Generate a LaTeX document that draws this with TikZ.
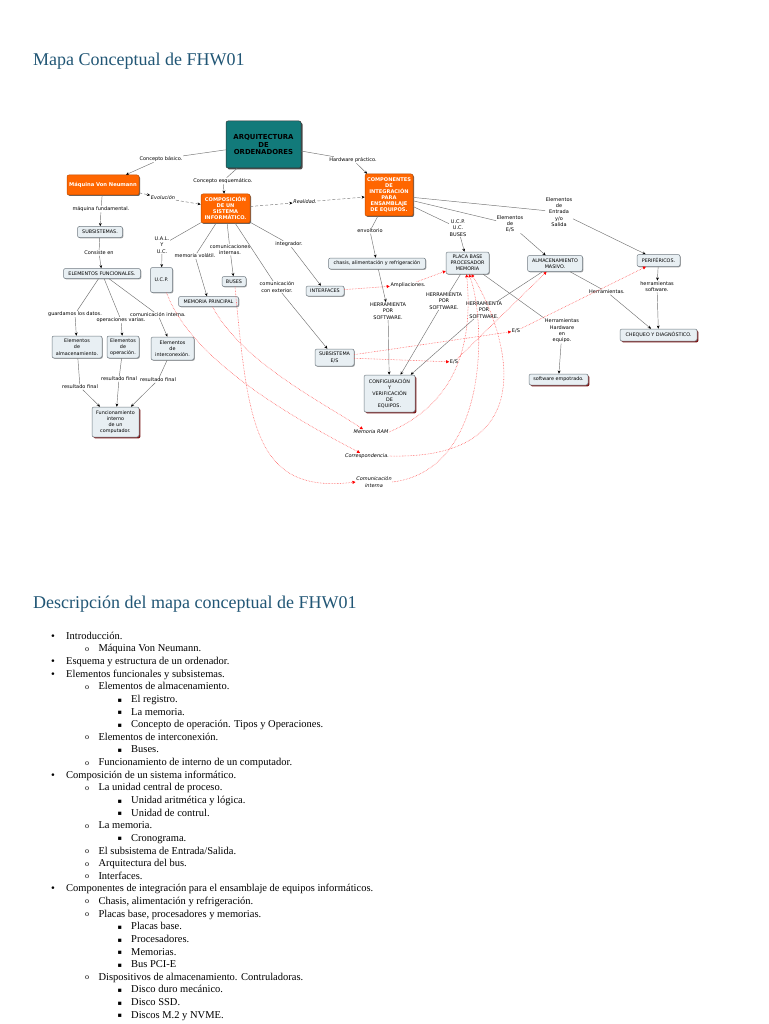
\documentclass[tikz,border=0pt]{standalone}
\usepackage{fontspec}
\setmainfont{Liberation Serif}
\newfontfamily\dv{DejaVu Sans}
\usetikzlibrary{arrows.meta,shadows}
\definecolor{titleblue}{RGB}{33,86,117}
\definecolor{conceptfill}{RGB}{232,239,243}
\definecolor{conceptdraw}{RGB}{110,120,128}
\definecolor{orangefill}{RGB}{255,102,0}
\definecolor{tealfill}{RGB}{18,122,122}
\definecolor{shadowred}{RGB}{125,25,25}
\newcommand\mycf{\dv\fontsize{4.85}{6.2}\selectfont}
\newcommand\myof{\dv\bfseries\fontsize{5.1}{6.1}\selectfont}
\newcommand\myvf{\dv\bfseries\fontsize{5.2}{6.2}\selectfont}
\newcommand\mytf{\dv\bfseries\fontsize{6.9}{7.8}\selectfont}
\newcommand\mylf{\dv\fontsize{5}{6.3}\selectfont}
\newcommand\myif{\dv\itshape\fontsize{5}{6.3}\selectfont}
\tikzset{
 base/.style={rounded corners=2pt, line width=0.5pt, inner sep=0pt, align=center},
 cbox/.style={base, draw=conceptdraw, fill=conceptfill, font=\mycf, drop shadow={shadow xshift=0.8pt,shadow yshift=-0.8pt,fill=black!35,opacity=1}},
 rbox/.style={base, draw=conceptdraw, fill=conceptfill, font=\mycf, drop shadow={shadow xshift=1.4pt,shadow yshift=-1.4pt,fill=shadowred,opacity=1}},
 obox/.style={base, draw=orangefill!75!black, fill=orangefill, text=white, font=\myof, drop shadow={shadow xshift=1pt,shadow yshift=-1pt,fill=black!60,opacity=1}},
 tbox/.style={base, draw=black!80, fill=tealfill, text=black, font=\mytf, drop shadow={shadow xshift=1.5pt,shadow yshift=-1.5pt,fill=black!70,opacity=1}},
 lbl/.style={inner sep=0.6pt, align=center, font=\mylf},
 ilbl/.style={inner sep=0.6pt, align=center, font=\myif},
 ln/.style={draw=black!55, line width=0.45pt},
 ar/.style={ln, -{Stealth[length=3.2pt,width=2.8pt,color=black]}},
 dsh/.style={ar, densely dashed},
 rd/.style={draw=red!70, line width=0.55pt, densely dotted, -{Triangle[length=3pt,width=3pt,color=red]}},
 lst/.style={anchor=base west, inner sep=0pt, font=\fontsize{10.5}{12}\selectfont},
 itm1/.style={lst, xshift=50.2pt, execute at begin node={\makebox[15.8pt][l]{\dv\fontsize{9}{9}\selectfont •}}},
 itm2/.style={lst, xshift=85pt, execute at begin node={\makebox[13.3pt][l]{\raisebox{0.6pt}{\fontsize{8}{8}\selectfont o}}}},
 itm3/.style={lst, xshift=117.3pt, execute at begin node={\makebox[13.7pt][l]{\raisebox{0.4pt}{\dv\fontsize{6.5}{6.5}\selectfont ▪}}}},
 ttl/.style={anchor=base west, inner sep=0pt, text=titleblue, font=\fontsize{18}{20}\selectfont},
}
\begin{document}
\begin{tikzpicture}[x=1pt,y=-1pt]
\useasboundingbox (0,0) rectangle (768,1024);
% titles
\node[ttl] (t1) at (33,66) {Mapa Conceptual de FHW01};
\node[ttl] (t2) at (33,608.3) {Descripción del mapa conceptual de FHW01};

% concepts
\node[tbox, minimum width=75pt, minimum height=47pt] (arq) at (263.5,144.5) {ARQUITECTURA\\DE\\ORDENADORES};
\node[obox, font=\myvf, minimum width=72pt, minimum height=20pt] (vn) at (103,185) {Máquina Von Neumann};
\node[obox, minimum width=49pt, minimum height=29pt] (comp) at (225.5,208.5) {COMPOSICIÓN\\DE UN\\SISTEMA\\INFORMÁTICO.};
\node[obox, minimum width=48pt, minimum height=42pt] (compo) at (389,195) {COMPONENTES\\DE\\INTEGRACIÓN\\PARA\\ENSAMBLAJE\\DE EQUIPOS.};
\node[cbox, minimum width=45pt, minimum height=11pt] (subs) at (100,232) {SUBSISTEMAS.};
\node[cbox, minimum width=77pt, minimum height=10pt] (ef) at (102,273.5) {ELEMENTOS FUNCIONALES.};
\node[cbox, minimum width=22pt, minimum height=25pt] (ucp) at (161.5,280) {U.C.P.};
\node[cbox, minimum width=60pt, minimum height=10pt] (mp) at (208.5,301.5) {MEMORIA PRINCIPAL};
\node[cbox, minimum width=24pt, minimum height=10pt] (buses) at (234,281.5) {BUSES};
\node[cbox, minimum width=38pt, minimum height=10pt] (interf) at (325,291) {INTERFACES};
\node[cbox, minimum width=97pt, minimum height=11pt] (chasis) at (377,263.5) {chasis, alimentación y refrigeración};
\node[cbox, minimum width=43pt, minimum height=22pt] (placa) at (467.5,263) {PLACA BASE\\PROCESADOR\\MEMORIA};
\node[cbox, minimum width=55pt, minimum height=16pt] (alm) at (555,263.5) {ALMACENAMIENTO\\MASIVO.};
\node[cbox, minimum width=43pt, minimum height=12pt] (perif) at (658.5,260.5) {PERIFÉRICOS.};
\node[rbox, minimum width=77pt, minimum height=12pt] (cheq) at (658.5,335) {CHEQUEO Y DIAGNÓSTICO.};
\node[rbox, minimum width=59pt, minimum height=11pt] (swemp) at (558.5,379.5) {software empotrado.};
\node[cbox, minimum width=39pt, minimum height=17pt] (subes) at (334.5,357.5) {SUBSISTEMA\\E/S};
\node[rbox, minimum width=51pt, minimum height=37pt] (config) at (389.5,393.5) {CONFIGURACIÓN\\Y\\VERIFICACIÓN\\DE\\EQUIPOS.};
\node[cbox, minimum width=50pt, minimum height=22pt] (ealm) at (77,347) {Elementos\\de\\almacenamiento.};
\node[cbox, minimum width=32pt, minimum height=22pt] (eop) at (123,347) {Elementos\\de\\operación.};
\node[cbox, minimum width=43pt, minimum height=23pt] (eint) at (172.5,348.5) {Elementos\\de\\interconexión.};
\node[rbox, minimum width=47pt, minimum height=30pt] (func) at (115.5,422) {Funcionamiento\\interno\\de un\\computador.};

% linking phrases
\node[lbl] (lcb) at (161,159) {Concepto básico.};
\node[lbl] (lhp) at (353,160) {Hardware práctico.};
\node[lbl] (lce) at (223,181) {Concepto esquemático.};
\node[ilbl] (lev) at (163,198) {Evolución};
\node[ilbl] (lre) at (305,202) {Realidad.};
\node[lbl] (lmf) at (101,209) {máquina fundamental.};
\node[lbl] (lcon) at (99,253) {Consiste en};
\node[lbl] (lual) at (162,245) {U.A.L.\\Y\\U.C.};
\node[lbl] (lmv) at (195,256) {memoria volátil.};
\node[lbl] (lci) at (230,249.5) {comunicaciones\\internas.};
\node[lbl] (lint) at (289,244) {integrador.};
\node[lbl] (lcce) at (277,287) {comunicación\\con exterior.};
\node[lbl] (lenv) at (370,231) {envoltorio};
\node[lbl] (lucp) at (458,228) {U.C.P.\\U.C.\\BUSES};
\node[lbl] (lees) at (510,224) {Elementos\\de\\E/S};
\node[lbl] (leesa) at (559,212) {Elementos\\de\\Entrada\\y/o\\Salida};
\node[lbl] (lgd) at (75,314) {guardamos los datos.};
\node[lbl] (lov) at (121,320) {operaciones varias.};
\node[lbl] (lcin) at (158,315) {comunicación interna.};
\node[lbl] (lh1) at (388,311) {HERRAMIENTA\\POR\\SOFTWARE.};
\node[lbl] (lh2) at (444,301) {HERRAMIENTA\\POR\\SOFTWARE.};
\node[lbl] (lh3) at (484,310) {HERRAMIENTA\\POR\\SOFTWARE.};
\node[lbl] (lhs) at (657,286.5) {herramientas\\software.};
\node[lbl] (lher) at (607,292) {Herramientas.};
\node[lbl] (lhhe) at (562,331) {Herramientas\\Hardware\\en\\equipo.};
\node[lbl] (lrf1) at (80,387) {resultado final};
\node[lbl] (lrf2) at (119,379) {resultado final};
\node[lbl] (lrf3) at (158,380) {resultado final};
\node[lbl] (amp) at (408,285) {Ampliaciones.};
\node[lbl] (es1) at (516,331) {E/S};
\node[lbl] (es2) at (454,362) {E/S};
\node[ilbl] (mram) at (371,432) {Memoria RAM};
\node[ilbl] (corr) at (367,456) {Correspondencia.};
\node[ilbl] (comint) at (374,482) {Comunicación\\interna};

% connectors
\draw[ln] (arq) -- (lcb); \draw[ar] (lcb) -- (vn);
\draw[ln] (arq) -- (lhp); \draw[ar] (lhp) -- (compo);
\draw[ln] (arq) -- (lce); \draw[ar] (lce) -- (comp);
\draw[dsh] (vn) -- (lev); \draw[dsh] (lev) -- (comp);
\draw[dsh] (comp) -- (lre); \draw[dsh] (lre) -- (compo);
\draw[ln] (vn) -- (lmf); \draw[ar] (lmf) -- (subs);
\draw[ln] (subs) -- (lcon); \draw[ar] (lcon) -- (ef);
\draw[ln] (ef) -- (lgd); \draw[ar] (lgd) -- (ealm);
\draw[ln] (ef) -- (lov); \draw[ar] (lov) -- (eop);
\draw[ln] (ef) -- (lcin); \draw[ar] (lcin) -- (eint);
\draw[ln] (ealm) -- (lrf1); \draw[ar] (lrf1) -- (func);
\draw[ln] (eop) -- (lrf2); \draw[ar] (lrf2) -- (func);
\draw[ln] (eint) -- (lrf3); \draw[ar] (lrf3) -- (func);
\draw[ln] (comp) -- (lual); \draw[ar] (lual) -- (ucp);
\draw[ln] (comp) -- (lmv); \draw[ar] (lmv) -- (mp);
\draw[ln] (comp) -- (lci); \draw[ar] (lci) -- (buses);
\draw[ln] (comp) -- (lint); \draw[ar] (lint) -- (interf);
\draw[ln] (comp) -- (lcce); \draw[ar] (lcce) -- (subes);
\draw[ln] (compo) -- (lenv); \draw[ar] (lenv) -- (chasis);
\draw[ar] (chasis) -- (lh1); \draw[ar] (lh1) -- (config);
\draw[ln] (placa) -- (lh2); \draw[ar] (lh2) -- (config);
\draw[ln] (alm) -- (lh3); \draw[ar] (lh3) -- (config);
\draw[ln] (compo) -- (lucp); \draw[ar] (lucp) -- (placa);
\draw[ln] (compo) -- (lees); \draw[ar] (lees) -- (alm);
\draw[ln] (compo) -- (leesa); \draw[ar] (leesa) -- (perif);
\draw[ar] (perif) -- (lhs); \draw[ar] (lhs) -- (cheq);
\draw[ln] (alm) -- (lher); \draw[ar] (lher) -- (cheq);
\draw[ln] (placa) -- (lhhe); \draw[ar] (lhhe) -- (swemp);

% cross links
\draw[rd] (interf) -- (amp); \draw[rd] (amp) -- (placa);
\draw[rd] (subes) -- (es2);
\draw[rd] (subes) -- (es1);
\draw[rd] (es1) -- (perif);
\draw[rd] (es2) -- (alm);
\draw[rd] ([xshift=5pt]ucp.south) .. controls (188,350) and (262,402) .. ([xshift=-7pt]corr.north);
\draw[rd] ([xshift=4pt]mp.south) .. controls (242,362) and (322,402) .. ([xshift=-8pt]mram.north);
\draw[rd] ([xshift=1pt]buses.south) .. controls (248,425) and (255,494) .. (comint.west);
\draw[rd] (mram.east) .. controls (452,405) and (474,350) .. ([xshift=-1pt]placa.south);
\draw[rd] (corr.east) .. controls (555,460) and (500,320) .. ([xshift=4pt]placa.south);
\draw[rd] (comint.east) .. controls (490,470) and (486,320) .. ([xshift=1.5pt]placa.south);

% list
\foreach \lv/\tx [count=\i from 0] in {
 1/{Introducción.},
 2/{Máquina Von Neumann.},
 1/{Esquema y estructura de un ordenador.},
 1/{Elementos funcionales y subsistemas.},
 2/{Elementos de almacenamiento.},
 3/{El registro.},
 3/{La memoria.},
 3/{Concepto de operación. Tipos y Operaciones.},
 2/{Elementos de interconexión.},
 3/{Buses.},
 2/{Funcionamiento de interno de un computador.},
 1/{Composición de un sistema informático.},
 2/{La unidad central de proceso.},
 3/{Unidad aritmética y lógica.},
 3/{Unidad de contrul.},
 2/{La memoria.},
 3/{Cronograma.},
 2/{El subsistema de Entrada/Salida.},
 2/{Arquitectura del bus.},
 2/{Interfaces.},
 1/{Componentes de integración para el ensamblaje de equipos informáticos.},
 2/{Chasis, alimentación y refrigeración.},
 2/{Placas base, procesadores y memorias.},
 3/{Placas base.},
 3/{Procesadores.},
 3/{Memorias.},
 3/{Bus PCI-E},
 2/{Dispositivos de almacenamiento. Contruladoras.},
 3/{Disco duro mecánico.},
 3/{Disco SSD.},
 3/{Discos M.2 y NVME.}}{
 \pgfmathsetmacro{\yy}{639.3+\i*12.63}
 \node[itm\lv] (it\i) at (0,\yy) {\tx};
}
\end{tikzpicture}
\end{document}
